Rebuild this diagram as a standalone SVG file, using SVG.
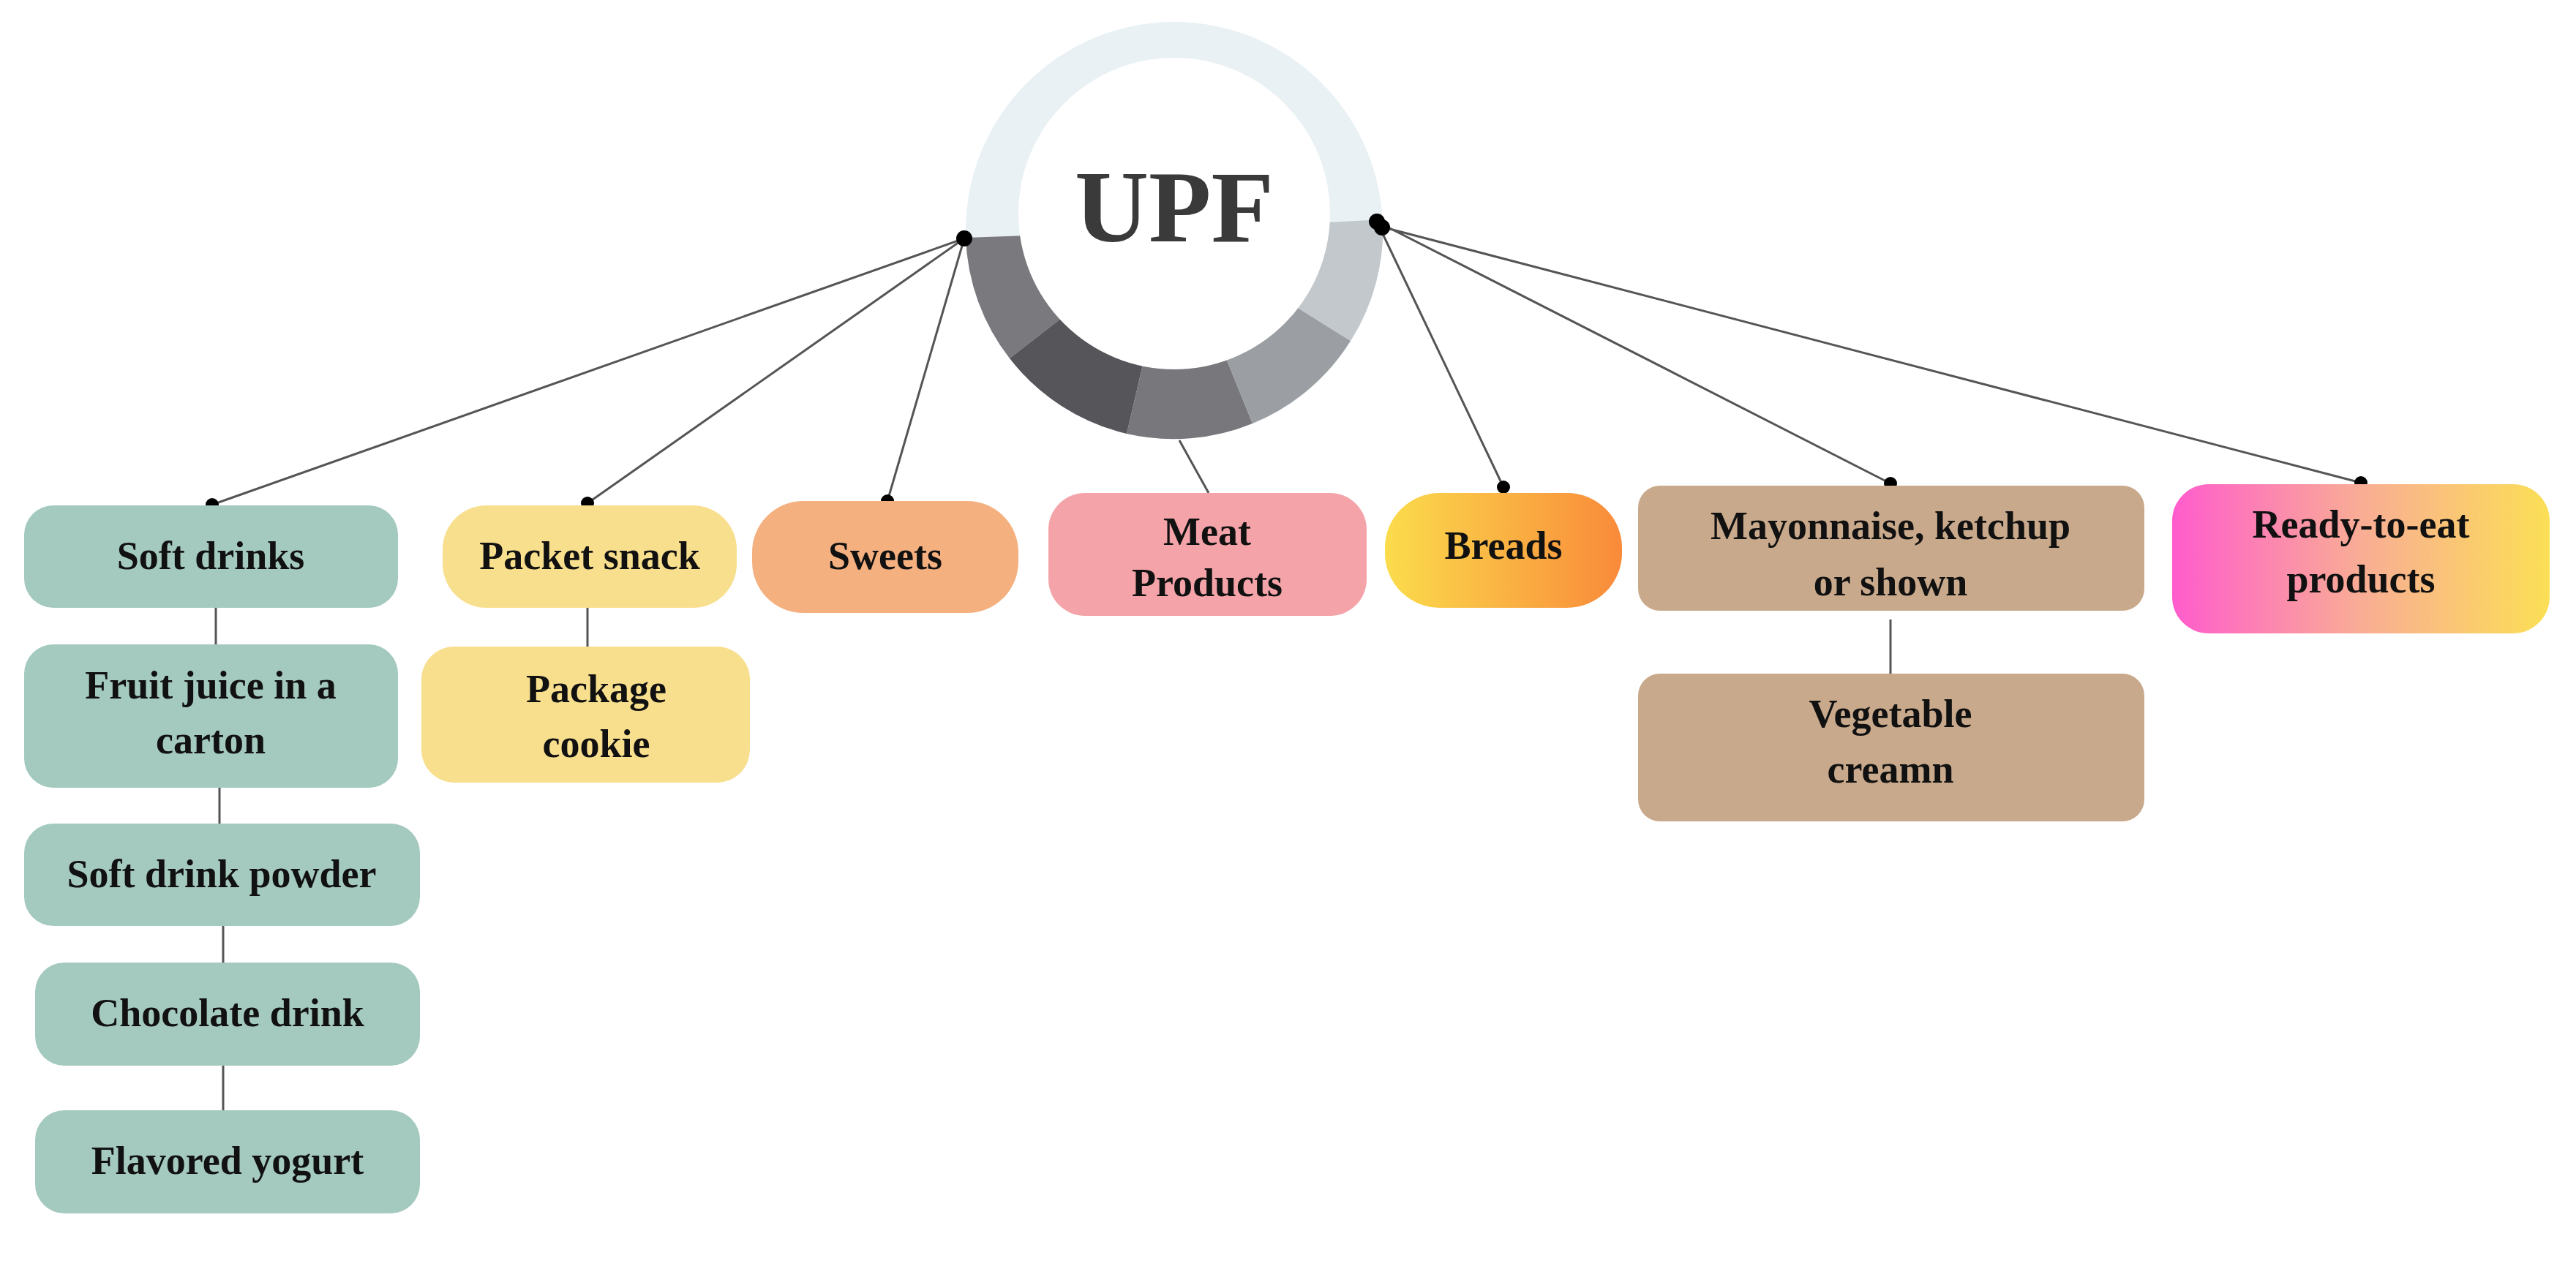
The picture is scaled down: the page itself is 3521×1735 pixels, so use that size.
<svg xmlns="http://www.w3.org/2000/svg" width="3521" height="1735" viewBox="0 0 3521 1735">
<style>
.t{font-family:"Liberation Serif",serif;font-weight:bold;font-size:54px;fill:#111;text-anchor:middle}
.c{stroke:#555;stroke-width:3;fill:none}
.d{fill:#000}
</style>
<defs>
<linearGradient id="gb" x1="0" x2="1"><stop offset="0" stop-color="#fbdc4c"/><stop offset="1" stop-color="#f98a3a"/></linearGradient>
<linearGradient id="gr" x1="0" x2="1"><stop offset="0" stop-color="#ff5ccc"/><stop offset="0.5" stop-color="#f9ad95"/><stop offset="1" stop-color="#fbdf55"/></linearGradient>
</defs>
<rect width="3521" height="1735" fill="#fff"/>
<g id="hub">
<circle cx="1605" cy="315" r="285" fill="#e9f1f4"/>
<path d="M1605,315 L1320,325 A285,285 0 0 0 1380,490 Z" fill="#7a7a7e"/>
<path d="M1605,315 L1380,490 A285,285 0 0 0 1540,593 Z" fill="#55555a"/>
<path d="M1605,315 L1540,593 A285,285 0 0 0 1712,579 Z" fill="#77777c"/>
<path d="M1605,315 L1712,579 A285,285 0 0 0 1846,466 Z" fill="#9b9fa3"/>
<path d="M1605,315 L1846,466 A285,285 0 0 0 1890,300 Z" fill="#c3c8cc"/>
<circle cx="1605" cy="292" r="213" fill="#fff"/>
<text x="1605" y="330" style="font-family:'Liberation Serif',serif;font-weight:bold;font-size:140px;fill:#3a3a3a;text-anchor:middle">UPF</text>
</g>
<g id="connectors">
<path class="c" d="M1318,326 L290,690 M1318,326 L803,688 M1318,326 L1213,685 M1612,602 L1652,674 M1882,303 L2055,666 M1882,303 L2584,661 M1888,310 L3227,660 M295,831 V881 M300,1077 V1126 M305,1266 V1316 M305,1457 V1518 M803,831 V884 M2584,847 V921"/>
<circle class="d" cx="1318" cy="326" r="11"/><circle class="d" cx="1882" cy="303" r="11"/><circle class="d" cx="1889" cy="311" r="11"/>
<circle class="d" cx="290" cy="690" r="9"/><circle class="d" cx="803" cy="688" r="9"/><circle class="d" cx="1213" cy="685" r="9"/>
<circle class="d" cx="2055" cy="666" r="9"/><circle class="d" cx="2584" cy="661" r="9"/><circle class="d" cx="3227" cy="660" r="9"/>
</g>
<g id="n1"><rect x="33" y="691" width="511" height="140" rx="40" fill="#a4c9bf"/><text class="t" x="288" y="778">Soft drinks</text></g>
<g id="n2"><rect x="33" y="881" width="511" height="196" rx="40" fill="#a4c9bf"/><text class="t" x="288" y="955">Fruit juice in a</text><text class="t" x="288" y="1030">carton</text></g>
<g id="n3"><rect x="33" y="1126" width="541" height="140" rx="40" fill="#a4c9bf"/><text class="t" x="303" y="1213">Soft drink powder</text></g>
<g id="n4"><rect x="48" y="1316" width="526" height="141" rx="40" fill="#a4c9bf"/><text class="t" x="311" y="1403">Chocolate drink</text></g>
<g id="n5"><rect x="48" y="1518" width="526" height="141" rx="40" fill="#a4c9bf"/><text class="t" x="311" y="1605">Flavored yogurt</text></g>
<g id="n6"><rect x="605" y="691" width="402" height="140" rx="60" fill="#f8df8e"/><text class="t" x="806" y="778">Packet snack</text></g>
<g id="n7"><rect x="576" y="884" width="449" height="186" rx="45" fill="#f8df8e"/><text class="t" x="815" y="960">Package</text><text class="t" x="815" y="1035">cookie</text></g>
<g id="n8"><rect x="1028" y="685" width="364" height="153" rx="70" fill="#f5b080"/><text class="t" x="1210" y="778">Sweets</text></g>
<g id="n9"><rect x="1433" y="674" width="435" height="168" rx="50" fill="#f4a4a9"/><text class="t" x="1650" y="745">Meat</text><text class="t" x="1650" y="815">Products</text></g>
<g id="n10"><rect x="1893" y="674" width="324" height="157" rx="75" fill="url(#gb)"/><text class="t" x="2055" y="764">Breads</text></g>
<g id="n11"><rect x="2239" y="664" width="692" height="171" rx="30" fill="#c9a98b"/><text class="t" x="2584" y="737">Mayonnaise, ketchup</text><text class="t" x="2584" y="814">or shown</text></g>
<g id="n12"><rect x="2239" y="921" width="692" height="202" rx="30" fill="#c9a98b"/><text class="t" x="2584" y="994">Vegetable</text><text class="t" x="2584" y="1070">creamn</text></g>
<g id="n13"><rect x="2969" y="662" width="516" height="204" rx="50" fill="url(#gr)"/><text class="t" x="3227" y="735">Ready-to-eat</text><text class="t" x="3227" y="810">products</text></g>
</svg>
